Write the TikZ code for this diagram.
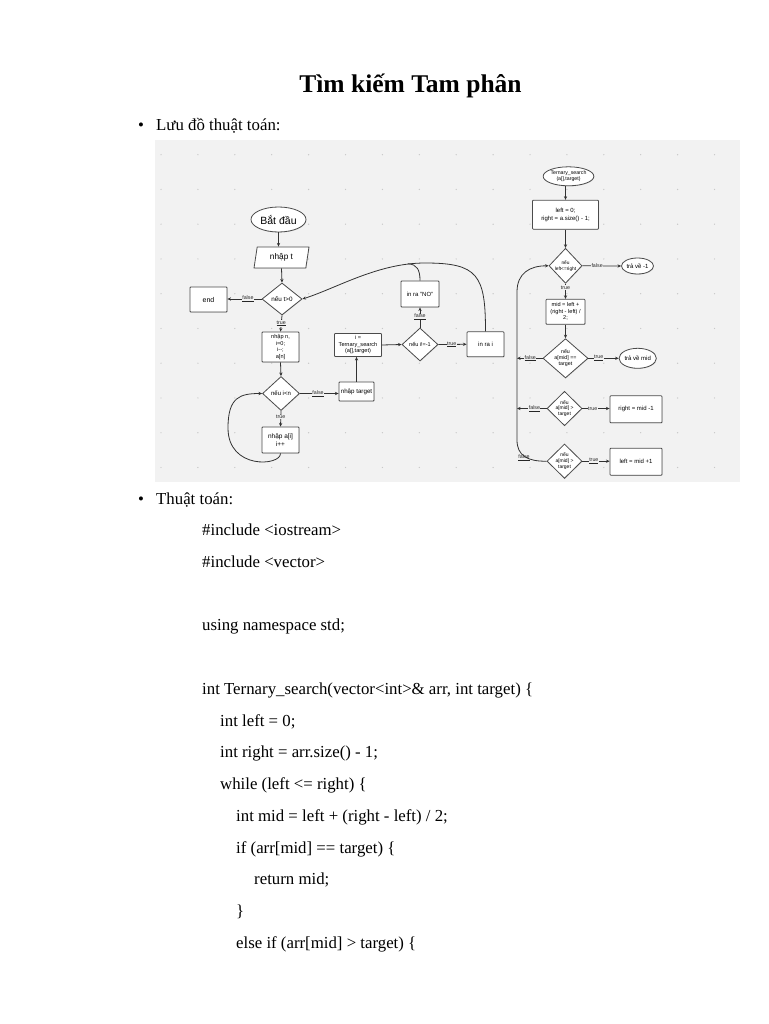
\documentclass[tikz,border=0pt]{standalone}
\usepackage{fontspec}
\setmainfont{Liberation Serif}
\setsansfont{Liberation Sans}
\usetikzlibrary{shapes.geometric,arrows.meta,shadows}
\definecolor{bgc}{RGB}{242,242,242}
\definecolor{lnc}{RGB}{50,50,50}
\definecolor{bdc}{RGB}{75,75,75}
\definecolor{dotc}{RGB}{200,200,200}
\begin{document}
\begin{tikzpicture}[x=1pt,y=-1pt,
 shp/.style={draw=bdc, fill=white, line width=0.8pt, inner sep=0pt, align=center,
   font=\sffamily\fontsize{6}{6.8}\selectfont,
   drop shadow={shadow xshift=0.5pt,shadow yshift=-0.6pt,opacity=0.25}},
 box/.style={shp, rectangle, rounded corners=0.8pt},
 dia/.style={shp, diamond},
 ell/.style={shp, ellipse},
 arr/.style={draw=lnc, line width=0.8pt, -{Stealth[length=3.6pt,width=3.2pt]}},
 ln/.style={draw=lnc, line width=0.8pt},
 lbl/.style={font=\sffamily\fontsize{5.3}{6}\selectfont, fill=bgc, inner sep=0.4pt, text=black!85},
 txt/.style={anchor=base west, inner sep=0pt, font=\fontsize{16.8}{20}\selectfont},
 bul/.style={anchor=base, inner sep=0pt, font=\fontsize{16.8}{20}\selectfont},
]
\useasboundingbox (0,0) rectangle (768,1024);
\fill[white] (0,0) rectangle (768,1024);

% title and bullets
\node[anchor=base, inner sep=0pt, font=\bfseries\fontsize{25.5}{30}\selectfont] (title) at (410.5,93) {Tìm kiếm Tam phân};
\node[bul] (b1) at (141,131) {•};
\node[txt] (t1) at (156,131) {Lưu đồ thuật toán:};

% flowchart background
\fill[bgc] (155,140) rectangle (740,482);
\foreach \i in {0,...,15} \foreach \j in {0,...,9}
  \fill[dotc] (161+36.9*\i, 154.7+34.75*\j) circle[radius=0.7pt];

% ---------- left flowchart ----------
\node[ell, minimum width=55pt, minimum height=25pt, font=\sffamily\fontsize{10.5}{12}\selectfont] (start) at (278.5,219.5) {Bắt đầu};
\node[shp, trapezium, trapezium left angle=79, trapezium right angle=101, trapezium stretches=true,
      minimum width=55pt, minimum height=21pt, font=\sffamily\fontsize{8.3}{9}\selectfont] (nhapt) at (281.5,257.5) {nhập t};
\node[dia, minimum width=40pt, minimum height=32pt, font=\sffamily\fontsize{6.3}{7}\selectfont] (t0) at (282,299) {nếu t>0};
\node[box, minimum width=37pt, minimum height=25pt, font=\sffamily\fontsize{7}{8}\selectfont] (endn) at (208.5,299.5) {end};
\node[box, minimum width=37pt, minimum height=30pt, font=\sffamily\fontsize{5.6}{6.6}\selectfont] (nhapn) at (280.5,347) {nhập n,\\i=0;\\i-{}-;\\a[n]};
\node[dia, minimum width=37pt, minimum height=34pt] (iln) at (281,393.5) {nếu i<n};
\node[box, minimum width=35pt, minimum height=19pt, font=\sffamily\fontsize{6.2}{7}\selectfont] (nhaptg) at (356.5,391.5) {nhập target};
\node[box, minimum width=37pt, minimum height=26pt, font=\sffamily\fontsize{6.5}{7.8}\selectfont] (nhapai) at (280.5,440) {nhập a[i]\\i++};
\node[box, minimum width=47pt, minimum height=23pt, font=\sffamily\fontsize{5.6}{6.5}\selectfont] (tern) at (358,345) {i =\\Ternary\_search\\(a[],target)};
\node[dia, minimum width=36pt, minimum height=33pt, font=\sffamily\fontsize{5.5}{6.5}\selectfont] (ineq) at (420,344.5) {nếu i!=-1};
\node[box, minimum width=38pt, minimum height=26pt] (inNO) at (420,294) {in ra "NO"};
\node[box, minimum width=37pt, minimum height=25pt] (inrai) at (485.5,344.3) {in ra i};

\draw[arr] (start.south) -- (start.south |- nhapt.north);
\draw[arr] (nhapt.south) -- (t0.north);
\draw[arr] (t0.west) -- node[lbl, pos=0.4] {\underline{false}} (endn.east |- t0.west);
\draw[arr] (t0.south) -- node[lbl, pos=0.5] {\underline{true}} (nhapn.north);
\draw[arr] (nhapn.south) -- (iln.north);
\draw[arr] (iln.east) -- node[lbl, pos=0.47] {\underline{false}} (nhaptg.west |- iln.east);
\draw[arr] (iln.south) -- node[lbl, pos=0.38] {true} (nhapai.north);
\coordinate (lp) at (228,428);
\draw[arr] (nhapai.south) .. controls (281,466) and (228,470) .. (lp) .. controls (228,397) and (240,393.5) .. (iln.west);
\draw[arr] (nhaptg.north) -- (nhaptg.north |- tern.south);
\draw[arr] (tern.east) -- (ineq.west);
\draw[arr] (ineq.north) -- node[lbl, pos=0.52] {\underline{false}} (inNO.south);
\draw[arr] (ineq.east) -- node[lbl, pos=0.47] {\underline{true}} (inrai.west);
\coordinate (peak) at (425,263);
\coordinate (mrg) at (408,263.8);
\draw[arr] (inrai.north) .. controls (485.5,275) and (478,263) .. (peak) .. controls (378,263) and (337,288) .. (t0.east);
\draw[ln] (inNO.north) .. controls (420,270) and (417,264.2) .. (mrg);

% ---------- right flowchart ----------
\node[ell, minimum width=48pt, minimum height=19pt, font=\sffamily\fontsize{5.2}{6}\selectfont] (tsearch) at (568.5,176.3) {Ternary\_search\\(a[],target)};
\node[box, minimum width=66pt, minimum height=29pt, font=\sffamily\fontsize{6}{7.5}\selectfont] (init) at (565.5,214.7) {left = 0;\\right = a.size() - 1;};
\node[dia, minimum width=33pt, minimum height=35pt, font=\sffamily\fontsize{4.8}{5.8}\selectfont] (lr) at (565.5,265.8) {nếu\\left<=right};
\node[ell, minimum width=32pt, minimum height=16pt, font=\sffamily\fontsize{6}{7}\selectfont] (ret1) at (637.5,266) {trả về -1};
\node[box, minimum width=39pt, minimum height=25pt, font=\sffamily\fontsize{5.6}{6.5}\selectfont] (mid) at (565.5,311.8) {mid = left +\\(right - left) /\\2;};
\node[dia, minimum width=45pt, minimum height=33pt, font=\sffamily\fontsize{5.3}{6}\selectfont] (eq) at (565.5,358.3) {nếu\\a[mid] ==\\target};
\node[ell, minimum width=37pt, minimum height=20pt, font=\sffamily\fontsize{6}{7}\selectfont] (retmid) at (637.7,358.3) {trả về mid};
\node[dia, minimum width=35pt, minimum height=34pt, font=\sffamily\fontsize{5}{5.8}\selectfont] (gt1) at (564.5,408.5) {nếu\\a[mid] >\\target};
\node[box, minimum width=52pt, minimum height=27pt, font=\sffamily\fontsize{6}{7}\selectfont] (rmid) at (636,409.3) {right = mid -1};
\node[dia, minimum width=35pt, minimum height=34pt, font=\sffamily\fontsize{5}{5.8}\selectfont] (gt2) at (564.5,461.2) {nếu\\a[mid] >\\target};
\node[box, minimum width=52pt, minimum height=27pt, font=\sffamily\fontsize{6}{7}\selectfont] (lmid) at (636,461.7) {left = mid +1};

\draw[arr] (init.north |- tsearch.south) -- (init.north);
\draw[arr] (init.south) -- (lr.north);
\draw[arr] (lr.east) -- node[lbl, pos=0.38] {false} (ret1.west);
\draw[arr] (lr.south) -- node[lbl, pos=0.25] {true} (mid.north);
\draw[arr] (mid.south) -- (eq.north);
\draw[arr] (eq.east) -- node[lbl, pos=0.34] {\underline{true}} (retmid.west);
\coordinate (lb) at (517,440);
\coordinate (lt) at (517,292);
\draw[arr] (eq.west) -- node[lbl, pos=0.48] {\underline{false}} (eq.west -| lb);
\draw[arr] (gt1.east) -- node[lbl, pos=0.38] {true} (rmid.west |- gt1.east);
\draw[arr] (gt1.west) -- node[lbl, pos=0.41] {\underline{false}} (gt1.west -| lb);
\draw[arr] (gt2.east) -- node[lbl, pos=0.42] {\underline{true}} (lmid.west |- gt2.east);
\draw[arr] (gt2.west) .. controls (528,461.5) and (517,456) .. (lb) -- (lt) .. controls (517,273) and (530,265.8) .. (lr.west);
\node[lbl, fill=none] (gt2f) at (524,457.5) {\underline{false}};

% ---------- algorithm text ----------
\node[bul] (b2) at (141,504) {•};
\node[txt] (t2) at (156,504) {Thuật toán:};
\node[txt] (c1) at (202,535.5) {\#include <iostream>};
\node[txt] (c2) at (202,567.25) {\#include <vector>};
\node[txt] (c3) at (202,630.75) {using namespace std;};
\node[txt] (c4) at (202,694.25) {int Ternary\_search(vector<int>\& arr, int target) \{};
\node[txt] (c5) at (220,726) {int left = 0;};
\node[txt] (c6) at (220,757.75) {int right = arr.size() - 1;};
\node[txt] (c7) at (220,789.5) {while (left <= right) \{};
\node[txt] (c8) at (236,821.25) {int mid = left + (right - left) / 2;};
\node[txt] (c9) at (236,853) {if (arr[mid] == target) \{};
\node[txt] (c10) at (254,884.75) {return mid;};
\node[txt] (c11) at (236,916.5) {\}};
\node[txt] (c12) at (236,948.25) {else if (arr[mid] > target) \{};
\end{tikzpicture}
\end{document}
